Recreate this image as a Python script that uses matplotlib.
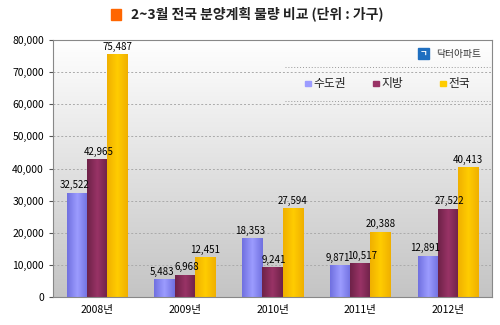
import numpy as np
import matplotlib
matplotlib.use("Agg")
import matplotlib.pyplot as plt
from matplotlib.patches import Rectangle
from matplotlib.ticker import FuncFormatter

plt.rcParams['font.family'] = ['Noto Sans CJK KR', 'DejaVu Sans']

# data
years = ['2008년', '2009년', '2010년', '2011년', '2012년']
series = ['수도권', '지방', '전국']
capital = [32522, 5483, 18353, 9871, 12891]
local = [42965, 6968, 9241, 10517, 27522]
nation = [75487, 12451, 27594, 20388, 40413]
yticks = [0, 10000, 20000, 30000, 40000, 50000, 60000, 70000, 80000]

colors = ['#9c9cff', '#993366', '#ffcc00']
edge_dark = ['#7070e0', '#6e2248', '#f0b000']
label_shift = [-0.03, 0.02, 0.0]

fig = plt.figure(figsize=(5, 3.25), dpi=100)
ax = fig.add_axes([0.106, 0.086, 0.878, 0.791])

# grey gradient background
grad = np.linspace(0, 1, 256).reshape(-1, 1)
ax.imshow(grad, extent=[0, 1, 0, 1], transform=ax.transAxes, aspect='auto',
          cmap=matplotlib.colors.LinearSegmentedColormap.from_list('bg', ['#ffffff', '#c4c4c4']),
          zorder=0)

x = np.arange(len(years))
w = 0.23
for i, vals in enumerate([capital, local, nation]):
    xs = x + (i - 1) * w
    bars = ax.bar(xs, vals, w, color=colors[i], zorder=2, label=series[i])
    cm = matplotlib.colors.LinearSegmentedColormap.from_list(
        'b%d' % i, [edge_dark[i], colors[i], edge_dark[i]])
    for b, v in zip(bars, vals):
        # horizontal shading on each bar
        im = ax.imshow(np.linspace(0, 1, 64).reshape(1, -1),
                       extent=[b.get_x(), b.get_x() + w, 0, v],
                       aspect='auto', cmap=cm, zorder=2.5)
        im.set_clip_path(b)
        ax.text(b.get_x() + w / 2 + label_shift[i], v + 700, f'{v:,}', ha='center',
                va='bottom', fontsize=7, zorder=4)

ax.set_xlim(-0.5, 4.5)
ax.set_ylim(0, 80000)
ax.set_yticks(yticks)
ax.yaxis.set_major_formatter(FuncFormatter(lambda v, p: f'{int(v):,}'))
ax.set_xticks(x)
ax.set_xticklabels(years)
ax.tick_params(axis='x', length=0, labelsize=7.5, pad=6)
ax.tick_params(axis='y', length=3, labelsize=7.5, color='#555555')
ax.yaxis.grid(True, linestyle=(0, (2, 2)), color='#aaaaaa', linewidth=0.7, zorder=1)
for s in ax.spines.values():
    s.set_color('#888888')
    s.set_linewidth(0.8)

# title
fig.add_artist(Rectangle((0.222, 0.94), 0.02, 0.031, transform=fig.transFigure,
                         color='#ff6600'))
fig.text(0.515, 0.957, '2~3월 전국 분양계획 물량 비교 (단위 : 가구)', fontsize=10,
         fontweight='bold', ha='center', va='center', color='#222222')

# logo
fig.add_artist(Rectangle((0.836, 0.818), 0.022, 0.034, transform=fig.transFigure,
                         color='#1f6fc0'))
fig.text(0.847, 0.835, 'ㄱ', color='white', fontsize=6, ha='center', va='center',
         fontweight='bold')
fig.text(0.872, 0.835, '닥터아파트', fontsize=7, ha='left', va='center', color='#333333')

# legend with dotted separators
for yy in [0.794, 0.69]:
    fig.add_artist(plt.Line2D([0.57, 0.98], [yy, yy], transform=fig.transFigure,
                              linestyle=(0, (1, 2)), color='#999999', linewidth=0.7))
leg_x = [0.61, 0.746, 0.88]
for i in range(3):
    fig.add_artist(Rectangle((leg_x[i], 0.736), 0.011, 0.016, transform=fig.transFigure,
                             color=colors[i]))
    fig.text(leg_x[i] + 0.016, 0.743, series[i], fontsize=8.5, ha='left', va='center',
             color='#222222')

fig.savefig('out.png', dpi=100)
